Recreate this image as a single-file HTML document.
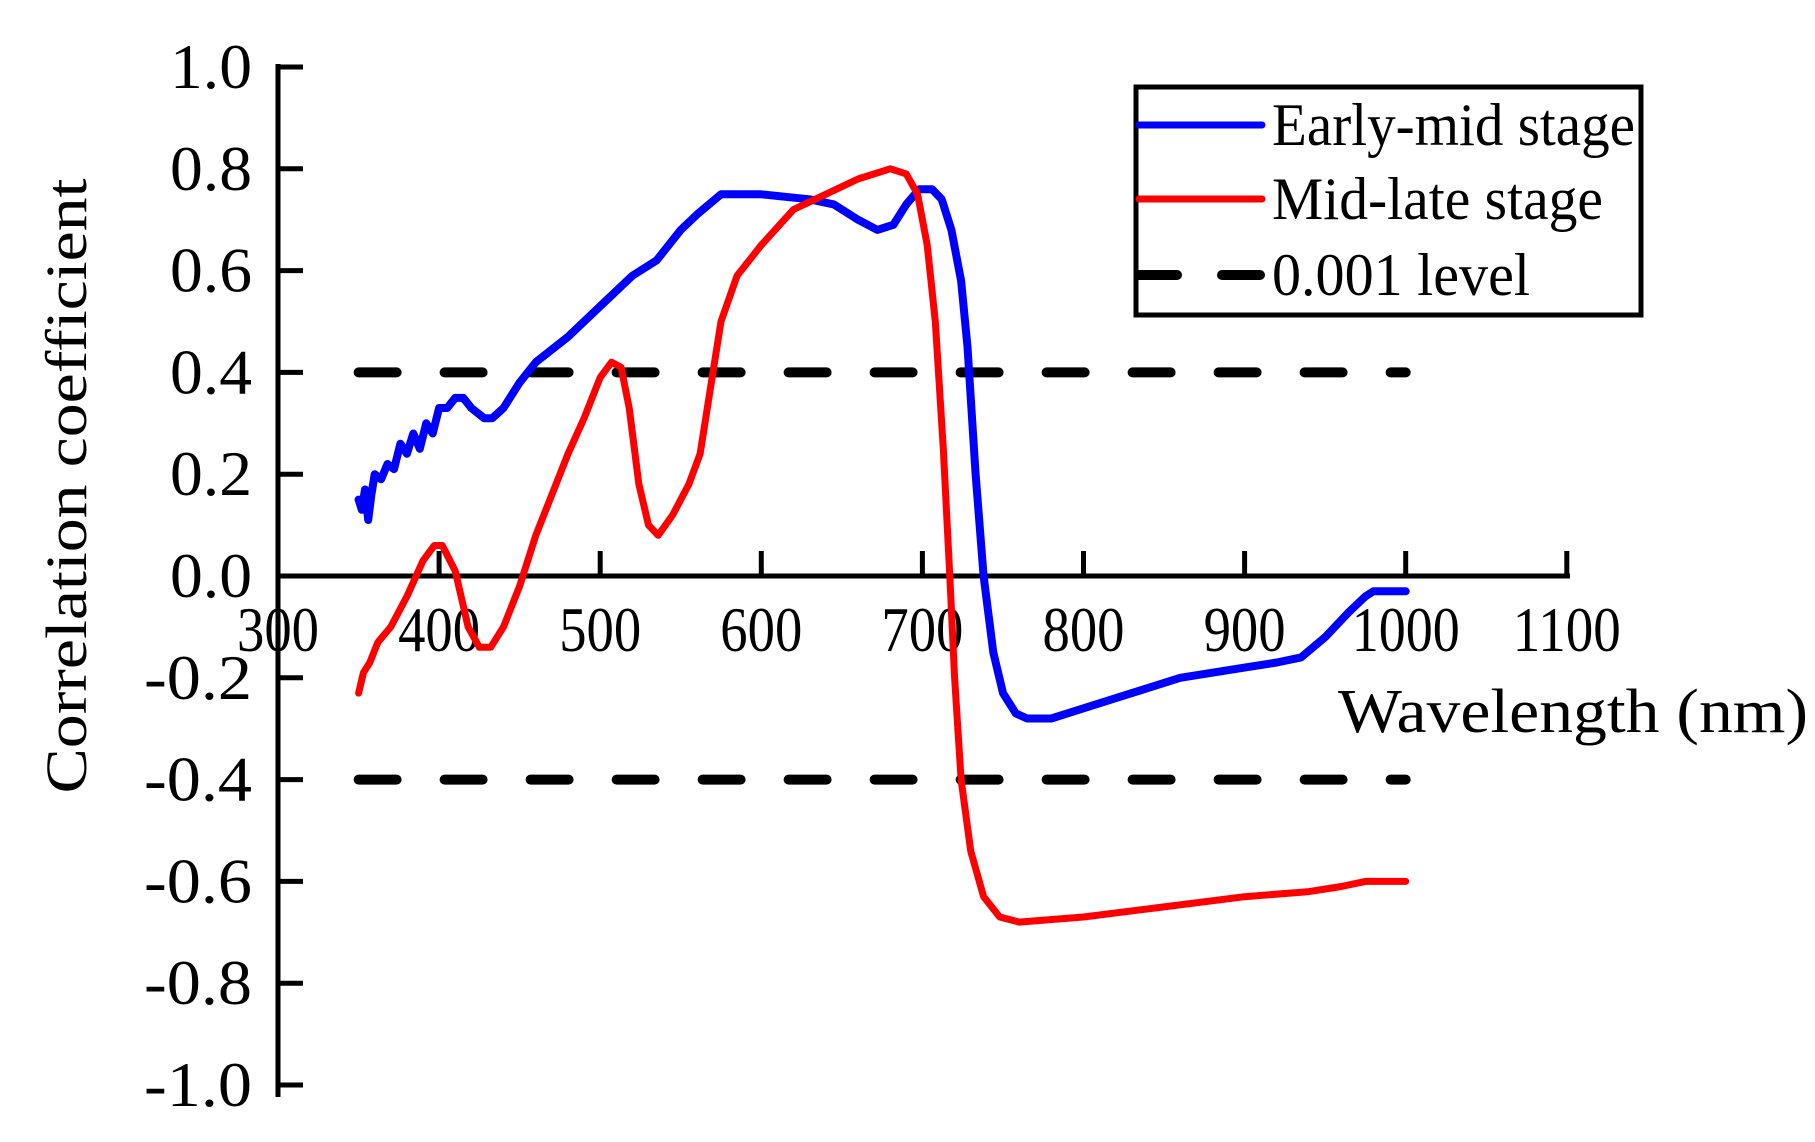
<!DOCTYPE html>
<html><head><meta charset="utf-8"><style>
html,body{margin:0;padding:0;background:#fff;}
svg{display:block;}
text{font-family:"Liberation Serif",serif;fill:#000;}
</style></head><body>
<svg id="s" width="1815" height="1142" viewBox="0 0 1815 1142" xmlns="http://www.w3.org/2000/svg">
<g id="axes" stroke="#000" stroke-width="5" fill="none">
  <line x1="278" y1="64" x2="278" y2="1097"/>
  <line x1="276" y1="576" x2="1570" y2="576"/>
</g>
<g id="ticks" stroke="#000" stroke-width="5"></g>
<g id="labels" font-size="64"></g>
<polyline id="d1" fill="none" stroke="#000" stroke-width="10" stroke-linecap="round" stroke-dasharray="38 48"/>
<polyline id="d2" fill="none" stroke="#000" stroke-width="10" stroke-linecap="round" stroke-dasharray="38 48"/>
<polyline id="blue" fill="none" stroke="#0000ff" stroke-width="8" stroke-linejoin="round" stroke-linecap="round"/>
<polyline id="red" fill="none" stroke="#ff0000" stroke-width="7" stroke-linejoin="round" stroke-linecap="round"/>
<rect x="1136" y="87" width="505" height="228" fill="none" stroke="#000" stroke-width="5"/>
<line x1="1139" y1="125" x2="1262" y2="125" stroke="#0000ff" stroke-width="7" stroke-linecap="round"/>
<line x1="1139" y1="199" x2="1262" y2="199" stroke="#ff0000" stroke-width="7" stroke-linecap="round"/>
<line x1="1139" y1="275" x2="1262" y2="275" stroke="#000" stroke-width="10" stroke-linecap="round" stroke-dasharray="38 45"/>
<text x="1272" y="145" font-size="60" textLength="363" lengthAdjust="spacingAndGlyphs">Early-mid stage</text>
<text x="1272" y="219" font-size="60" textLength="331" lengthAdjust="spacingAndGlyphs">Mid-late stage</text>
<text x="1272" y="295" font-size="60" textLength="258" lengthAdjust="spacingAndGlyphs">0.001 level</text>
<text x="1338" y="732" font-size="62" textLength="470" lengthAdjust="spacingAndGlyphs">Wavelength (nm)</text>
<text transform="translate(86,486) rotate(-90)" text-anchor="middle" font-size="58" textLength="615" lengthAdjust="spacingAndGlyphs">Correlation coefficient</text>
</svg>
<script>
function X(w){return 278+(w-300)*1.611;}
function Y(v){return 576-509*v;}
var NS="http://www.w3.org/2000/svg";
var tk=document.getElementById('ticks'),lb=document.getElementById('labels');
for(var i=0;i<=10;i++){var v=1-0.2*i;var y=Y(v);
 var l=document.createElementNS(NS,'line');l.setAttribute('x1',278);l.setAttribute('x2',303);l.setAttribute('y1',y);l.setAttribute('y2',y);tk.appendChild(l);
 var s=v.toFixed(1);if(s=="-0.0")s="0.0";
 var w=s.charAt(0)=='-'?108:82;
 var t=document.createElementNS(NS,'text');t.setAttribute('x',252-w);t.setAttribute('y',y+21);
 t.setAttribute('textLength',w);t.setAttribute('lengthAdjust','spacingAndGlyphs');
 t.textContent=s;lb.appendChild(t);}
for(var w=400;w<=1100;w+=100){var x=X(w);
 var l=document.createElementNS(NS,'line');l.setAttribute('x1',x);l.setAttribute('x2',x);l.setAttribute('y1',551);l.setAttribute('y2',578);tk.appendChild(l);}
for(var w=300;w<=1100;w+=100){var t=document.createElementNS(NS,'text');var tw=(w>=1000)?108:82;
 t.setAttribute('x',X(w)-tw/2);t.setAttribute('y',651);t.setAttribute('textLength',tw);t.setAttribute('lengthAdjust','spacingAndGlyphs');t.textContent=w;lb.appendChild(t);}
function pts(a){return a.map(function(p){return X(p[0]).toFixed(1)+","+Y(p[1]).toFixed(1)}).join(" ");}
document.getElementById('d1').setAttribute('points',pts([[350,0.4],[1000,0.4]]));
document.getElementById('d2').setAttribute('points',pts([[350,-0.4],[1000,-0.4]]));
var blue=[[350,0.15],[352,0.13],[354,0.17],[356,0.11],[358,0.16],[360,0.2],[364,0.19],[368,0.22],[372,0.21],[376,0.26],[380,0.24],[384,0.28],[388,0.25],[392,0.3],[396,0.28],[400,0.33],[405,0.33],[410,0.35],[415,0.35],[420,0.33],[428,0.31],[433,0.31],[440,0.33],[450,0.38],[460,0.42],[480,0.47],[500,0.53],[520,0.59],[535,0.62],[550,0.68],[560,0.71],[575,0.75],[600,0.75],[630,0.74],[645,0.73],[660,0.7],[672,0.68],[682,0.69],[690,0.73],[698,0.76],[706,0.76],[712,0.74],[718,0.68],[724,0.58],[728,0.45],[733,0.2],[738,0.0],[744,-0.15],[750,-0.23],[758,-0.27],[765,-0.28],[780,-0.28],[800,-0.26],[830,-0.23],[860,-0.2],[900,-0.18],[920,-0.17],[935,-0.16],[950,-0.12],[965,-0.07],[975,-0.04],[980,-0.03],[1000,-0.03]];
var red=[[350,-0.23],[353,-0.19],[357,-0.17],[362,-0.13],[370,-0.1],[380,-0.04],[390,0.03],[397,0.06],[402,0.06],[410,0.01],[418,-0.1],[425,-0.14],[432,-0.14],[440,-0.1],[450,-0.02],[460,0.08],[470,0.16],[480,0.24],[490,0.31],[500,0.39],[507,0.42],[513,0.41],[518,0.33],[524,0.18],[530,0.1],[536,0.08],[545,0.12],[555,0.18],[562,0.24],[568,0.36],[575,0.5],[585,0.59],[600,0.65],[620,0.72],[640,0.75],[660,0.78],[680,0.8],[690,0.79],[697,0.75],[703,0.65],[708,0.5],[713,0.25],[717,0.0],[720,-0.2],[724,-0.4],[730,-0.54],[738,-0.63],[748,-0.67],[760,-0.68],[800,-0.67],[850,-0.65],[900,-0.63],[940,-0.62],[960,-0.61],[975,-0.6],[1000,-0.6]];
document.getElementById('blue').setAttribute('points',pts(blue));
document.getElementById('red').setAttribute('points',pts(red));
</script>
</body></html>
